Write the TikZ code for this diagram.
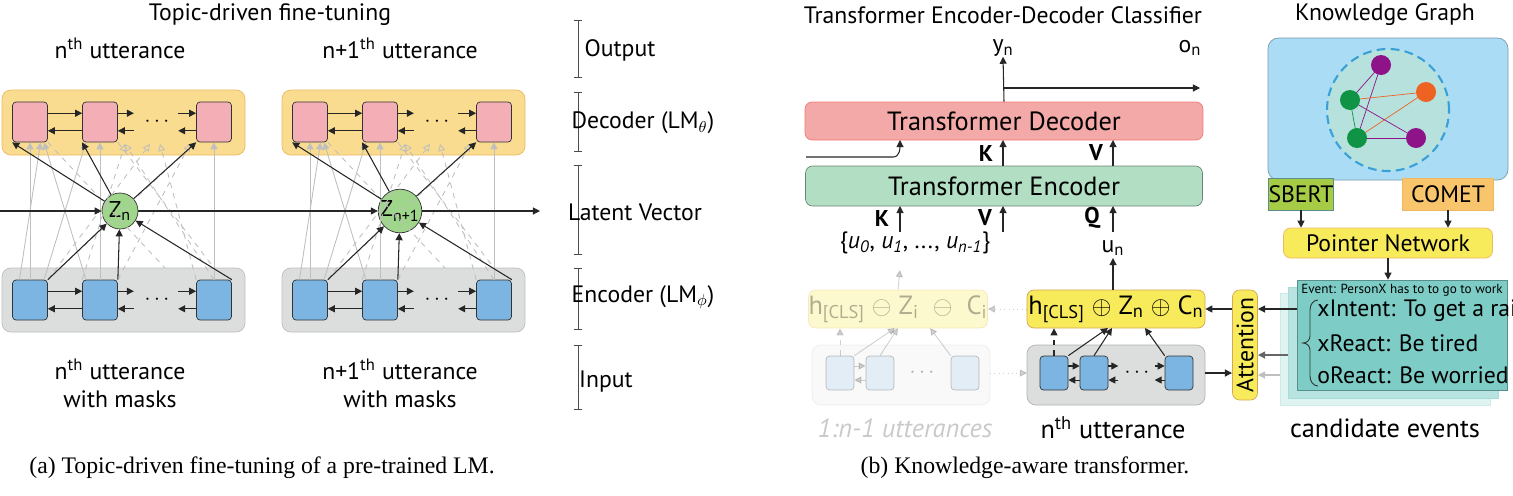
\documentclass[tikz,border=0pt]{standalone}
\usepackage{fontspec}
\setmainfont{Liberation Serif}
\newfontfamily\lab{PT Sans}
\usetikzlibrary{arrows.meta,calc}
\definecolor{decY}{HTML}{F9DC8F}
\definecolor{decO}{HTML}{EDB860}
\definecolor{pink}{HTML}{F3AFB5}
\definecolor{encG}{HTML}{DCDDDD}
\definecolor{blu}{HTML}{7DB5E2}
\definecolor{zg}{HTML}{9FD68C}
\definecolor{tdec}{HTML}{F2A9A7}
\definecolor{tenc}{HTML}{B2DEC3}
\definecolor{kgb}{HTML}{ABDCF5}
\definecolor{kgc}{HTML}{B6E1DD}
\definecolor{hy}{HTML}{F7EB5C}
\definecolor{card}{HTML}{7DCDC6}
\definecolor{sb}{HTML}{A6CB45}
\definecolor{cm}{HTML}{F8C46C}
\definecolor{purp}{HTML}{8E1389}
\definecolor{orng}{HTML}{EE6321}
\definecolor{grn}{HTML}{0E9444}
\definecolor{dsh}{HTML}{3AA0D8}
\tikzset{
 x=0.02cm,y=-0.02cm,
 every node/.style={font=\lab\fontsize{12}{14}\selectfont,inner sep=0pt},
 sq/.style={draw=black!80,rounded corners=2pt,minimum width=0.7cm,minimum height=0.8cm},
 ssq/.style={draw=black!80,rounded corners=2pt,fill=blu,minimum width=0.56cm,minimum height=0.68cm},
 arr/.style={-{Triangle[length=4pt,width=4pt]},black!85,line width=0.6pt},
 garr/.style={-{Triangle[length=4pt,width=4pt]},black!25,line width=0.5pt},
 darr/.style={-{Triangle[open,length=4pt,width=4pt]},black!25,dashed,line width=0.5pt},
 sep/.style={{Bar[width=5pt]}-{Bar[width=5pt]},black!70,line width=0.4pt},
 lbl/.style={font=\lab\fontsize{13.5}{16}\selectfont},
 kl/.style={font=\lab\bfseries\fontsize{13}{15}\selectfont},
}
\begin{document}
\begin{tikzpicture}
\useasboundingbox (0,0) rectangle (1513,495);
% ---------- left panel ----------
\node[lbl] (tl) at (270,15) {Topic-driven fine-tuning};
\node[lbl] (u1) at (120,48) {n\textsuperscript{th} utterance};
\node[lbl] (u2) at (400,48) {n+1\textsuperscript{th} utterance};
\node[lbl,align=center] (b1) at (120,383) {n\textsuperscript{th} utterance\\with masks};
\node[lbl,align=center] (b2) at (400,383) {n+1\textsuperscript{th} utterance\\with masks};
\foreach \g/\ox/\zl in {a/0/n,b/280/{n+1}}{
\begin{scope}[shift={(\ox,0)}]
 \fill[decY,draw=decO,rounded corners=5pt] (2,90) rectangle (245,155);
 \fill[encG,draw=black!25,rounded corners=5pt] (2,268) rectangle (245,332);
 \foreach \i/\xx in {1/30,2/100,3/214}{
  \node[sq,fill=pink] (p\g\i) at (\xx,122) {};
  \node[sq,fill=blu] (q\g\i) at (\xx,300) {};
 }
 \node[circle,draw=black!80,fill=zg,minimum size=0.72cm,font=\lab\fontsize{13}{15}\selectfont] (z\g) at (120,211) {Z\textsubscript{\zl}};
 \foreach \i in {1,2,3}{\draw[garr] (q\g\i.north) -- (p\g\i.south);}
 \draw[garr] ([xshift=8pt]q\g1.north) -- ([xshift=-8pt]p\g2.south);
 \draw[garr] ([xshift=-8pt]q\g2.north) -- ([xshift=8pt]p\g1.south);
 \draw[garr] ([xshift=-6pt]q\g1.north) -- ([xshift=6pt]p\g1.south);
 \draw[darr] (q\g1.north east) -- (150,144);
 \draw[darr] (q\g2.north east) -- (190,144);
 \draw[darr] (q\g3.north west) -- (160,144);
 \draw[darr] (q\g2.north west) -- (125,144);
 \draw[darr] (q\g3.north) -- (125,144);
 \draw[black!25,dashed,line width=0.5pt] (p\g1.south east) -- (165,268);
 \draw[black!25,dashed,line width=0.5pt] (p\g2.south east) -- (214,268);
 \draw[black!25,dashed,line width=0.5pt] (p\g3.south west) -- (60,268);
 \foreach \i in {1,2,3}{
  \draw[arr] (q\g\i.north east) -- (z\g);
  \draw[arr] (z\g) -- (p\g\i.south west);
 }
 \foreach \r in {p,q}{
  \draw[arr] ([yshift=5pt]\r\g1.east) -- ([yshift=5pt]\r\g2.west);
  \draw[arr] ([yshift=-5pt]\r\g2.west) -- ([yshift=-5pt]\r\g1.east);
  \draw[arr] ([yshift=5pt]\r\g2.east) -- ++(16,0);
  \draw[arr] ([yshift=-5pt]\r\g2.east)++(16,0) -- ([yshift=-5pt]\r\g2.east);
  \draw[arr] ([yshift=5pt]\r\g3.west)++(-18,0) -- ([yshift=5pt]\r\g3.west);
  \draw[arr] ([yshift=-5pt]\r\g3.west) -- ++(-18,0);
  \node at ($(\r\g2.east)!0.5!(\r\g3.west)$) {$\cdots$};
 }
\end{scope}}
\coordinate (lin) at (0,211);
\coordinate (lout) at (540,211);
\draw[arr] (lin) -- (za);
\draw[arr] (za) -- (zb);
\draw[arr] (zb) -- (lout);
% scale column
\draw[sep] (578,20) -- (578,78);
\draw[sep] (578,92) -- (578,152);
\draw[sep] (578,165) -- (578,255);
\draw[sep] (578,268) -- (578,330);
\draw[sep] (578,345) -- (578,410);
\node[lbl] (s1) at (620,50) {Output};
\node[lbl] (s2) at (643,123) {Decoder (LM\textsubscript{$\theta$})};
\node[lbl] (s3) at (635,212) {Latent Vector};
\node[lbl] (s4) at (643,297) {Encoder (LM\textsubscript{$\phi$})};
\node[lbl] (s5) at (606,382) {Input};
% ---------- right panel ----------
\node[lbl] (tr) at (1003,15) {Transformer Encoder-Decoder Classifier};
\node[lbl] (tk) at (1385,15) {Knowledge Graph};
\node[lbl] (yn) at (1003,48) {y\textsubscript{n}};
\node[lbl] (on) at (1190,48) {o\textsubscript{n}};
\node[fill=tdec,draw=tdec!70!red,rounded corners=4pt,minimum width=7.96cm,minimum height=0.76cm,font=\lab\fontsize{15}{17}\selectfont] (tdn) at (1004,121) {Transformer Decoder};
\node[fill=tenc,draw=tenc!60!black,rounded corners=4pt,minimum width=7.94cm,minimum height=0.8cm,font=\lab\fontsize{15}{17}\selectfont] (ten) at (1004,186) {Transformer Encoder};
\draw[arr] (tdn.north) -- (yn.south);
\coordinate (ob) at (1003,88);
\coordinate (oe) at (1200,88);
\draw[arr] (ob) -- (oe);
\coordinate (cin) at (806,157);
\coordinate (cmid) at (893,157);
\coordinate (cend) at (900,140);
\draw[arr] (cin) -- (cmid) to[out=0,in=-90] (cend);
\draw[arr] (1003,166) -- (1003,140);
\draw[arr] (1113,166) -- (1113,140);
\node[kl] (k1) at (986,153) {K};
\node[kl] (v1) at (1096,153) {V};
\node[kl] (k2) at (882,218) {K};
\node[kl] (v2) at (985,218) {V};
\node[kl] (qq) at (1092,218) {Q};
\draw[arr] (900,232) -- (900,206);
\draw[arr] (1003,232) -- (1003,206);
\draw[arr] (1113,232) -- (1113,206);
\node[lbl] (us) at (915,243) {\{\textit{u\textsubscript{0}}, \textit{u\textsubscript{1}}, ..., \textit{u\textsubscript{n-1}}\}};
\node[lbl] (un) at (1113,248) {u\textsubscript{n}};
\node[fill=hy,draw=decO!90!black,rounded corners=4pt,minimum width=3.56cm,minimum height=0.76cm,font=\lab\fontsize{15}{17}\selectfont] (hn) at (1116,309) {h\textsubscript{[CLS]} $\oplus$ Z\textsubscript{n} $\oplus$ C\textsubscript{n}};
\draw[arr] (1113,290) -- (1113,258);
\begin{scope}[opacity=0.3]
\node[fill=hy,draw=decO,rounded corners=4pt,minimum width=3.46cm,minimum height=0.76cm,font=\lab\fontsize{15}{17}\selectfont] (hf) at (898,309) {h\textsubscript{[CLS]} $\ominus$ Z\textsubscript{i} \ $\ominus$ \ C\textsubscript{i}};
\fill[encG!60,draw=black!20,rounded corners=5pt] (812,345) rectangle (990,405);
\foreach \i/\xx in {1/840,2/880,3/965}{\node[ssq,fill=blu!60] (f\i) at (\xx,373) {};}
\draw[garr,black!60] (hf.north) -- (900,270);
\draw[garr,black!60,dashed] (f1.north) -- (f1 |- hf.south);
\draw[garr,black!60] (f1.north east) -- (895,328);
\draw[garr,black!60] (f2.north) -- (898,328);
\draw[garr,black!60] (f3.north west) -- (930,328);
\draw[garr,black!60] ([yshift=4pt]f1.east) -- ([yshift=4pt]f2.west);
\draw[garr,black!60] ([yshift=-4pt]f2.west) -- ([yshift=-4pt]f1.east);
\node at (922,373) {$\cdots$};
\draw[garr,black!60,dotted] (1027,309) -- (hf.east);
\draw[garr,black!60,dotted] (990,373) -- (1027,373);
\node[font=\lab\itshape\fontsize{15}{17}\selectfont,text=black!70] (lu) at (905,428) {1:n-1 utterances};
\end{scope}
\fill[encG,draw=black!30,rounded corners=5pt] (1027,345) rectangle (1205,405);
\foreach \i/\xx in {1/1054,2/1094,3/1179}{\node[ssq] (r\i) at (\xx,373) {};}
\draw[arr] ([yshift=4pt]r1.east) -- ([yshift=4pt]r2.west);
\draw[arr] ([yshift=-4pt]r2.west) -- ([yshift=-4pt]r1.east);
\draw[arr] ([yshift=4pt]r2.east) -- ++(10,0);
\draw[arr] ([yshift=-4pt]r2.east)++(10,0) -- ([yshift=-4pt]r2.east);
\draw[arr] ([yshift=4pt]r3.west)++(-10,0) -- ([yshift=4pt]r3.west);
\draw[arr] ([yshift=-4pt]r3.west) -- ++(-10,0);
\node at (1137,373) {$\cdots$};
\draw[arr,dashed] (r1.north) -- (r1 |- hn.south);
\draw[arr] (r1.north east) -- (1108,328);
\draw[arr] (r2.north) -- (1112,328);
\draw[arr] (r3.north west) -- (1145,328);
\node[font=\lab\fontsize{15}{17}\selectfont] (lnu) at (1113,428) {n\textsuperscript{th} utterance};
% attention
\node[fill=hy,draw=decO!90!black,rounded corners=4pt,minimum width=2.2cm,minimum height=0.5cm,rotate=90,lbl] (att) at (1245,345) {Attention};
\coordinate (aL1) at (1232,309);
\coordinate (aL2) at (1232,373);
\coordinate (aR1) at (1258,309);
\coordinate (aR2) at (1258,355);
\coordinate (aR3) at (1258,375);
\draw[arr] (aL1) -- (hn.east);
\draw[arr] (1205,373) -- (aL2);
% cards
\fill[card!25,draw=card!40] (1280,293) rectangle (1490,405);
\fill[card!55,draw=card!70] (1288,287) rectangle (1498,398);
\node[fill=card,draw=card!70!black,minimum width=4.2cm,minimum height=2.2cm] (cd) at (1402,335) {};
\node[font=\lab\fontsize{7.5}{9}\selectfont] (ev) at (1402,290) {Event: PersonX has to to go to work};
\node[lbl,anchor=west] (e1) at (1317,311) {xIntent: To get a raise};
\node[lbl,anchor=west] (e2) at (1317,343) {xReact: Be tired};
\node[lbl,anchor=west] (e3) at (1317,375) {oReact: Be worried};
\draw[black!80,line width=0.5pt] (1318,300) to[out=180,in=90] (1310,310) -- (1310,336) to[out=-90,in=0] (1303,343) to[out=0,in=90] (1310,350) -- (1310,376) to[out=-90,in=180] (1318,386);
\draw[arr] (cd.west |- hn) -- (aR1);
\draw[arr,black!60] (1288,355) -- (aR2);
\draw[arr,black!25] (1280,375) -- (aR3);
\node[font=\lab\fontsize{15}{17}\selectfont] (ce) at (1385,428) {candidate events};
% knowledge graph
\fill[kgb,draw=kgb!70!black,rounded corners=6pt] (1268,38) rectangle (1508,180);
\node[circle,fill=kgc,draw=dsh,line width=1.2pt,dash pattern=on 5pt off 3pt,minimum size=2.44cm] (kc) at (1388,110) {};
\coordinate (n1) at (1381,65);
\coordinate (n2) at (1426,92);
\coordinate (n3) at (1350,100);
\coordinate (n4) at (1357,138);
\coordinate (n5) at (1416,138);
\draw[purp] (n1) -- (n3); \draw[purp] (n1) -- (n4);
\draw[orng] (n3) -- (n2); \draw[orng] (n4) -- (n2);
\draw[purp] (n3) -- (n5); \draw[purp] (n4) -- (n5);
\draw[grn] (n3) -- (n4);
\foreach \n/\c in {n1/purp,n2/orng,n3/grn,n4/grn,n5/purp}{\fill[\c] (\n) circle (0.2cm);}
\node[fill=sb,draw=card!70!black,minimum width=1.28cm,minimum height=0.64cm,lbl] (sbert) at (1301,194) {SBERT};
\node[fill=cm,draw=decO,minimum width=1.82cm,minimum height=0.64cm,lbl] (comet) at (1448,194) {COMET};
\node[fill=hy,draw=decO,rounded corners=4pt,minimum width=4.18cm,minimum height=0.6cm,lbl] (ptr) at (1388,243) {Pointer Network};
\draw[arr] (sbert.south) -- (sbert.south |- ptr.north);
\draw[arr] (comet.south) -- (comet.south |- ptr.north);
\draw[arr] (ptr.south) -- (ptr.south |- cd.north);
% captions
\node[font=\fontsize{13.5}{16}\selectfont] (ca) at (262,468) {(a) Topic-driven fine-tuning of a pre-trained LM.};
\node[font=\fontsize{13.5}{16}\selectfont] (cb) at (1025,468) {(b) Knowledge-aware transformer.};
\end{tikzpicture}
\end{document}
